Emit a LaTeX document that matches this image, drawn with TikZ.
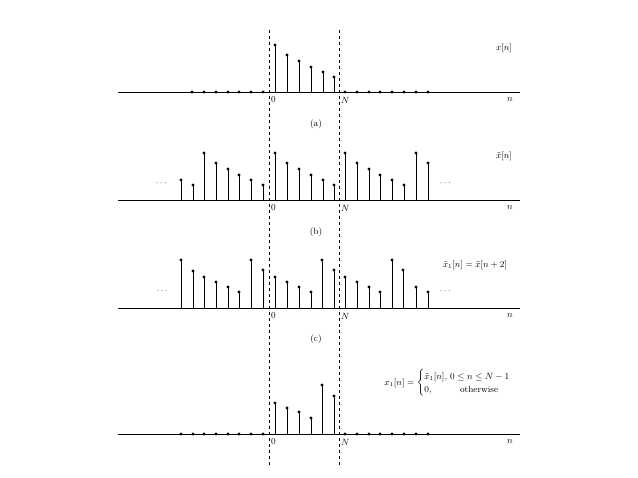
\documentclass[tikz,border=0pt]{standalone}
\usepackage{amsmath}
\begin{document}
\begin{tikzpicture}[x=1pt,y=-1pt,font=\small,
  axis/.style={line width=0.8pt},
  stem/.style={line width=0.6pt},
  dot/.style={circle,fill,inner sep=0pt,minimum size=3.2pt},
  vdash/.style={dashed,line width=0.7pt}]
\useasboundingbox (0,0) rectangle (638,478);
% dashed verticals
\coordinate (d1t) at (269,30); \coordinate (d1b) at (269,465);
\coordinate (d2t) at (339,30); \coordinate (d2b) at (339,465);
\draw[vdash] (d1t) -- (d1b);
\draw[vdash] (d2t) -- (d2b);
% axes
\foreach \b/\nm in {92/a,200/b,308/c,434/d}{
  \coordinate (L\nm) at (118,\b); \coordinate (R\nm) at (520,\b);
  \draw[axis] (L\nm) -- (R\nm);
  \node[anchor=west,inner sep=0pt] (zero\nm) at (271,\b+8) {0};
  \node[anchor=west,inner sep=0pt] (N\nm) at (341,\b+8) {$N$};
  \node (n\nm) at (510,\b+8) {$n$};
}
% (a)
\foreach \x in {192,204,216,228,239,251,263,345,357,369,380,392,404,416,428}
  \node[dot] at (\x,92) {};
\foreach \x/\h in {275/47,287/37,299/31,311/25,323/20,334/15}
  {\draw[stem] (\x,92) -- (\x,92-\h); \node[dot] at (\x,92-\h) {};}
\node (xa) at (504,48) {$x[n]$};
\node (la) at (316,124) {(a)};
% (b)
\foreach \x/\h in {181/20,193/15,204/47,216/37,228/31,239/25,251/20,263/15,
  275/47,287/37,299/31,311/25,323/20,334/15,
  345/47,357/37,369/31,380/25,392/20,404/15,416/47,428/37}
  {\draw[stem] (\x,200) -- (\x,200-\h); \node[dot] at (\x,200-\h) {};}
\node (db1) at (162,183) {$\cdots$};
\node (db2) at (446,183) {$\cdots$};
\node (xb) at (504,156) {$\tilde{x}[n]$};
\node (lb) at (316,232) {(b)};
% (c)
\foreach \x/\h in {181/48,193/37,204/31,216/26,228/21,239/16,251/48,263/38,
  275/31,287/26,299/21,311/16,322/48,334/38,
  345/31,357/26,369/21,380/16,392/48,403/38,416/21,428/16}
  {\draw[stem] (\x,308) -- (\x,308-\h); \node[dot] at (\x,308-\h) {};}
\node (dc1) at (163,291) {$\cdots$};
\node (dc2) at (446,291) {$\cdots$};
\node (xc) at (475,265) {$\tilde{x}_1[n]=\tilde{x}[n+2]$};
\node (lc) at (316,339) {(c)};
% (d)
\foreach \x in {181,193,204,216,228,239,251,263,345,357,369,380,392,404,416,428}
  \node[dot] at (\x,434) {};
\foreach \x/\h in {275/31,287/26,299/22,311/16,322/49,334/38}
  {\draw[stem] (\x,434) -- (\x,434-\h); \node[dot] at (\x,434-\h) {};}
\node (xd) at (452,383) {$x_1[n]=\begin{cases}\tilde{x}_1[n],\,0\le n\le N-1\\ 0, \qquad\quad\text{otherwise}\end{cases}$};
\end{tikzpicture}
\end{document}
